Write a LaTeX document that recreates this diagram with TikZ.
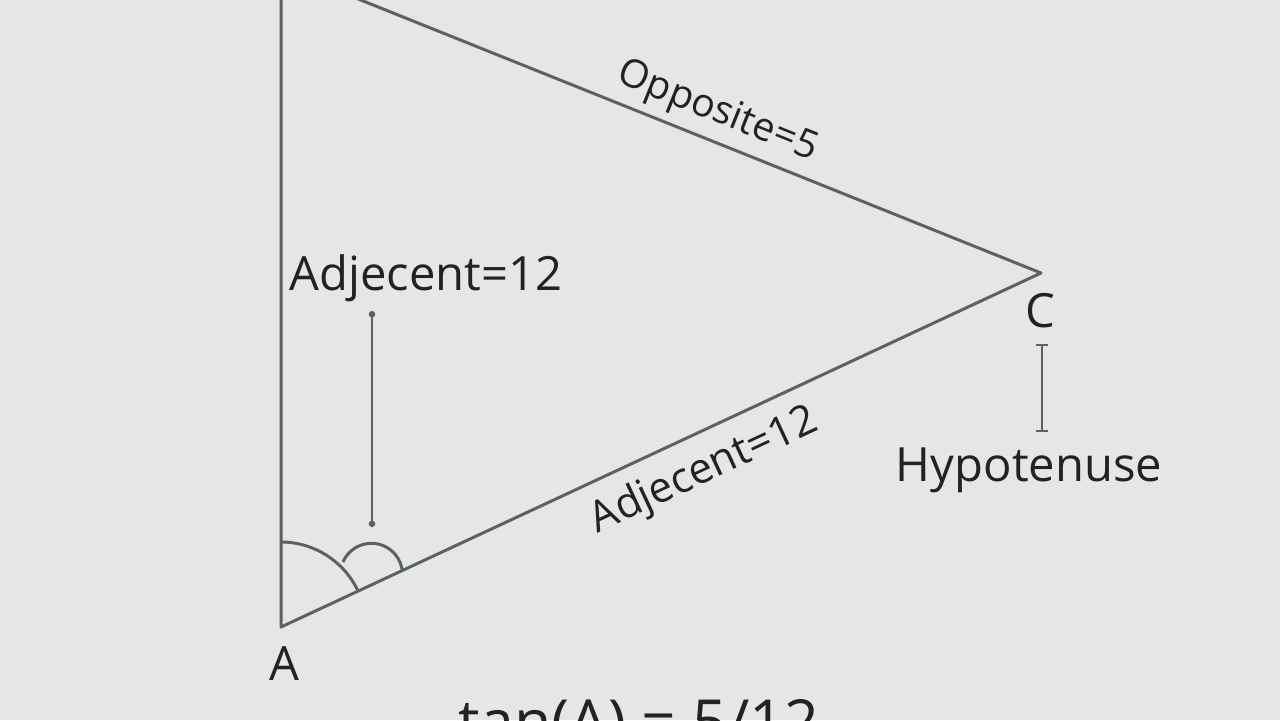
\documentclass[tikz,border=0pt]{standalone}
\usepackage{fontspec}
\setmainfont{Open Sans}
\usetikzlibrary{arrows.meta}
\definecolor{bgc}{HTML}{E6E6E6}
\definecolor{linec}{HTML}{5A6262}
\definecolor{inkc}{HTML}{222222}
\newcommand{\drawtext}{\node[text=inkc, inner sep=0, anchor=base, font=\fontsize{23.6}{28}\selectfont]}
\newcommand{\drawbig}{\node[text=inkc, inner sep=0, anchor=base, font=\fontsize{30.4}{36}\selectfont]}
\tikzset{
  sidelabel/.style={sloped, text=inkc, inner sep=0},
  pointer/.style={line width=1.2pt, {Circle[length=3.2pt]}-{Circle[length=3.2pt]}},
  tee/.style={line width=1.1pt, {Bar[width=6pt]}-{Bar[width=6pt]}}
}

\begin{document}
\begin{tikzpicture}[x=0.5pt, y=-0.5pt, line width=1.5pt, color=linec]
\useasboundingbox (0,0) rectangle (1280,720);
\fill[bgc] (0,0) rectangle (1280,720);
\clip (0,0) rectangle (1280,720);

%triangle corners
\coordinate (B) at (281,-32);
\coordinate (A) at (281,627);
\coordinate (C) at (1041,273);
\coordinate (smallstart) at (343,562);
\coordinate (ptop) at (372,311);
\coordinate (pbot) at (372,527);
\coordinate (htop) at (1042,344);
\coordinate (hbot) at (1042,432);

\draw[line join=round] (B) -- (A)
  -- node[sidelabel, pos=0.536, below=7.5pt, font=\fontsize{21.2}{25}\selectfont] (adjside) {Adjecent=12} (C)
  -- node[sidelabel, pos=0.44, above=4pt, font=\fontsize{19.6}{24}\selectfont] (oppside) {Opposite=5} (B);

%angle marks
\draw (A) ++(0,-85) arc[start angle=-90, end angle=-25.07, radius=85];
\draw (smallstart) arc[start angle=-156.6, end angle=-9.5, radius=31];

\drawtext (adjtext) at (426,290) {Adjecent=12};
\draw[pointer] (ptop) -- (pbot);

\drawtext (ctext) at (1040,327) {C};
\drawtext (atext) at (284,680) {A};
\draw[tee] (htop) -- (hbot);
\drawtext (hyptext) at (1029,481) {Hypotenuse};

\drawbig (tantext) at (639,743) {tan(A) = 5/12};
\end{tikzpicture}
\end{document}
